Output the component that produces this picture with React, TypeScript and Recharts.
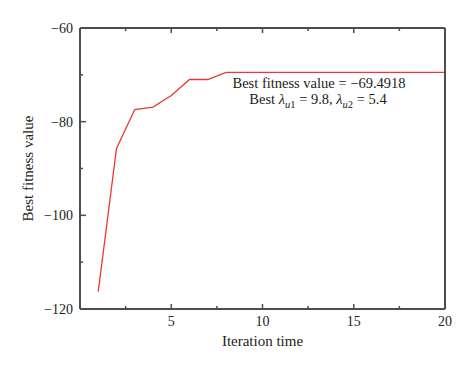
import { LineChart, Line, XAxis, YAxis, Label, Customized } from "recharts";

const iterations = [1, 2, 3, 4, 5, 6, 7, 8, 9, 10, 11, 12, 13, 14, 15, 16, 17, 18, 19, 20];
const bestFitness = [
  -116.3, -85.7, -77.4, -76.9, -74.4, -71.0, -71.0, -69.4918, -69.4918, -69.4918,
  -69.4918, -69.4918, -69.4918, -69.4918, -69.4918, -69.4918, -69.4918, -69.4918, -69.4918, -69.4918,
];
const xTicks = [0, 2.5, 5, 7.5, 10, 12.5, 15, 17.5, 20];
const xLabelled = [5, 10, 15, 20];
const yTicks = [-120, -110, -100, -90, -80, -70, -60];
const yLabelled = [-120, -100, -80, -60];

const rows = iterations.map((it, i) => ({ it, v: bestFitness[i] }));

const AXIS = "#4d4d4d";
const RED = "#e8392f";
const FONT = "'Liberation Serif', 'Times New Roman', serif";
const TM = 7;

const fmt = (v: number) => String(v).replace("-", "\u2212");

function BottomTick({ x, y, payload }: any) {
  const v = payload.value;
  const major = xLabelled.includes(v);
  const base = y - TM;
  return (
    <g>
      <line x1={x} x2={x} y1={base} y2={base - (major ? 5 : 3)} stroke={AXIS} strokeWidth={1.5} />
      {major && (
        <text x={x} y={y} dy="0.71em" textAnchor="middle" fontFamily={FONT} fontSize={14} fill="#222">
          {fmt(v)}
        </text>
      )}
    </g>
  );
}

function TopTick({ x, y, payload }: any) {
  const major = xLabelled.includes(payload.value);
  return <line x1={x} x2={x} y1={y} y2={y + (major ? 5 : 3)} stroke={AXIS} strokeWidth={1.5} />;
}

function LeftTick({ x, y, payload }: any) {
  const v = payload.value;
  const major = yLabelled.includes(v);
  const base = x + TM;
  return (
    <g>
      <line x1={base} x2={base + (major ? 6 : 3)} y1={y} y2={y} stroke={AXIS} strokeWidth={1.5} />
      {major && (
        <text x={x} y={y} dy="0.36em" textAnchor="end" fontFamily={FONT} fontSize={14} fill="#222">
          {fmt(v)}
        </text>
      )}
    </g>
  );
}

function RightTick({ x, y, payload }: any) {
  const major = yLabelled.includes(payload.value);
  return <line x1={x} x2={x - (major ? 6 : 3)} y1={y} y2={y} stroke={AXIS} strokeWidth={1.5} />;
}

function YTitle({ viewBox }: any) {
  const cx = viewBox.x + 33;
  const cy = viewBox.y + viewBox.height / 2;
  return (
    <text x={cx} y={cy} transform={`rotate(-90 ${cx} ${cy})`} textAnchor="middle" fontFamily={FONT} fontSize={15} fill="#222">
      Best fitness value
    </text>
  );
}

function XTitle({ viewBox }: any) {
  return (
    <text x={viewBox.x + viewBox.width / 2} y={viewBox.y + 37} textAnchor="middle" fontFamily={FONT} fontSize={15} fill="#222">
      Iteration time
    </text>
  );
}

function Note() {
  return (
    <g fontFamily={FONT} fontSize={14.5} fill="#222">
      <text x={319} y={88} textAnchor="middle">
        Best fitness value = {"\u2212"}69.4918
      </text>
      <text x={318} y={104} textAnchor="middle">
        Best <tspan fontStyle="italic">λ</tspan>
        <tspan dy={4} fontSize={10.5} fontStyle="italic">u</tspan>
        <tspan fontSize={10.5}>1</tspan>
        <tspan dy={-4}> = 9.8, </tspan>
        <tspan fontStyle="italic">λ</tspan>
        <tspan dy={4} fontSize={10.5} fontStyle="italic">u</tspan>
        <tspan fontSize={10.5}>2</tspan>
        <tspan dy={-4}> = 5.4</tspan>
      </text>
    </g>
  );
}

export default function App() {
  const axisLine = { stroke: AXIS, strokeWidth: 2 };
  return (
    <div style={{ position: "absolute", left: 0, top: 0, width: 474, height: 370, background: "#fff" }}>
      <LineChart width={474} height={370} data={rows} margin={{ top: 0, right: 0, bottom: 0, left: 0 }}>
        <XAxis
          xAxisId="b"
          dataKey="it"
          type="number"
          domain={[0, 20]}
          ticks={xTicks}
          interval={0}
          height={61}
          axisLine={axisLine}
          tickLine={false}
          tickSize={0}
          tickMargin={TM}
          tick={<BottomTick />}
        >
          <Label content={<XTitle />} />
        </XAxis>
        <XAxis
          xAxisId="t"
          orientation="top"
          dataKey="it"
          type="number"
          domain={[0, 20]}
          ticks={xTicks}
          interval={0}
          height={28}
          axisLine={axisLine}
          tickLine={false}
          tickSize={0}
          tickMargin={0}
          tick={<TopTick />}
        />
        <YAxis
          yAxisId="l"
          type="number"
          domain={[-120, -60]}
          ticks={yTicks}
          interval={0}
          width={80}
          axisLine={axisLine}
          tickLine={false}
          tickSize={0}
          tickMargin={TM}
          tick={<LeftTick />}
        >
          <Label content={<YTitle />} />
        </YAxis>
        <YAxis
          yAxisId="r"
          orientation="right"
          type="number"
          domain={[-120, -60]}
          ticks={yTicks}
          interval={0}
          width={29}
          axisLine={axisLine}
          tickLine={false}
          tickSize={0}
          tickMargin={0}
          tick={<RightTick />}
        />
        <Line
          xAxisId="b"
          yAxisId="l"
          type="linear"
          dataKey="v"
          stroke={RED}
          strokeWidth={1.3}
          dot={false}
          isAnimationActive={false}
        />
        <Customized component={<Note />} />
      </LineChart>
    </div>
  );
}
